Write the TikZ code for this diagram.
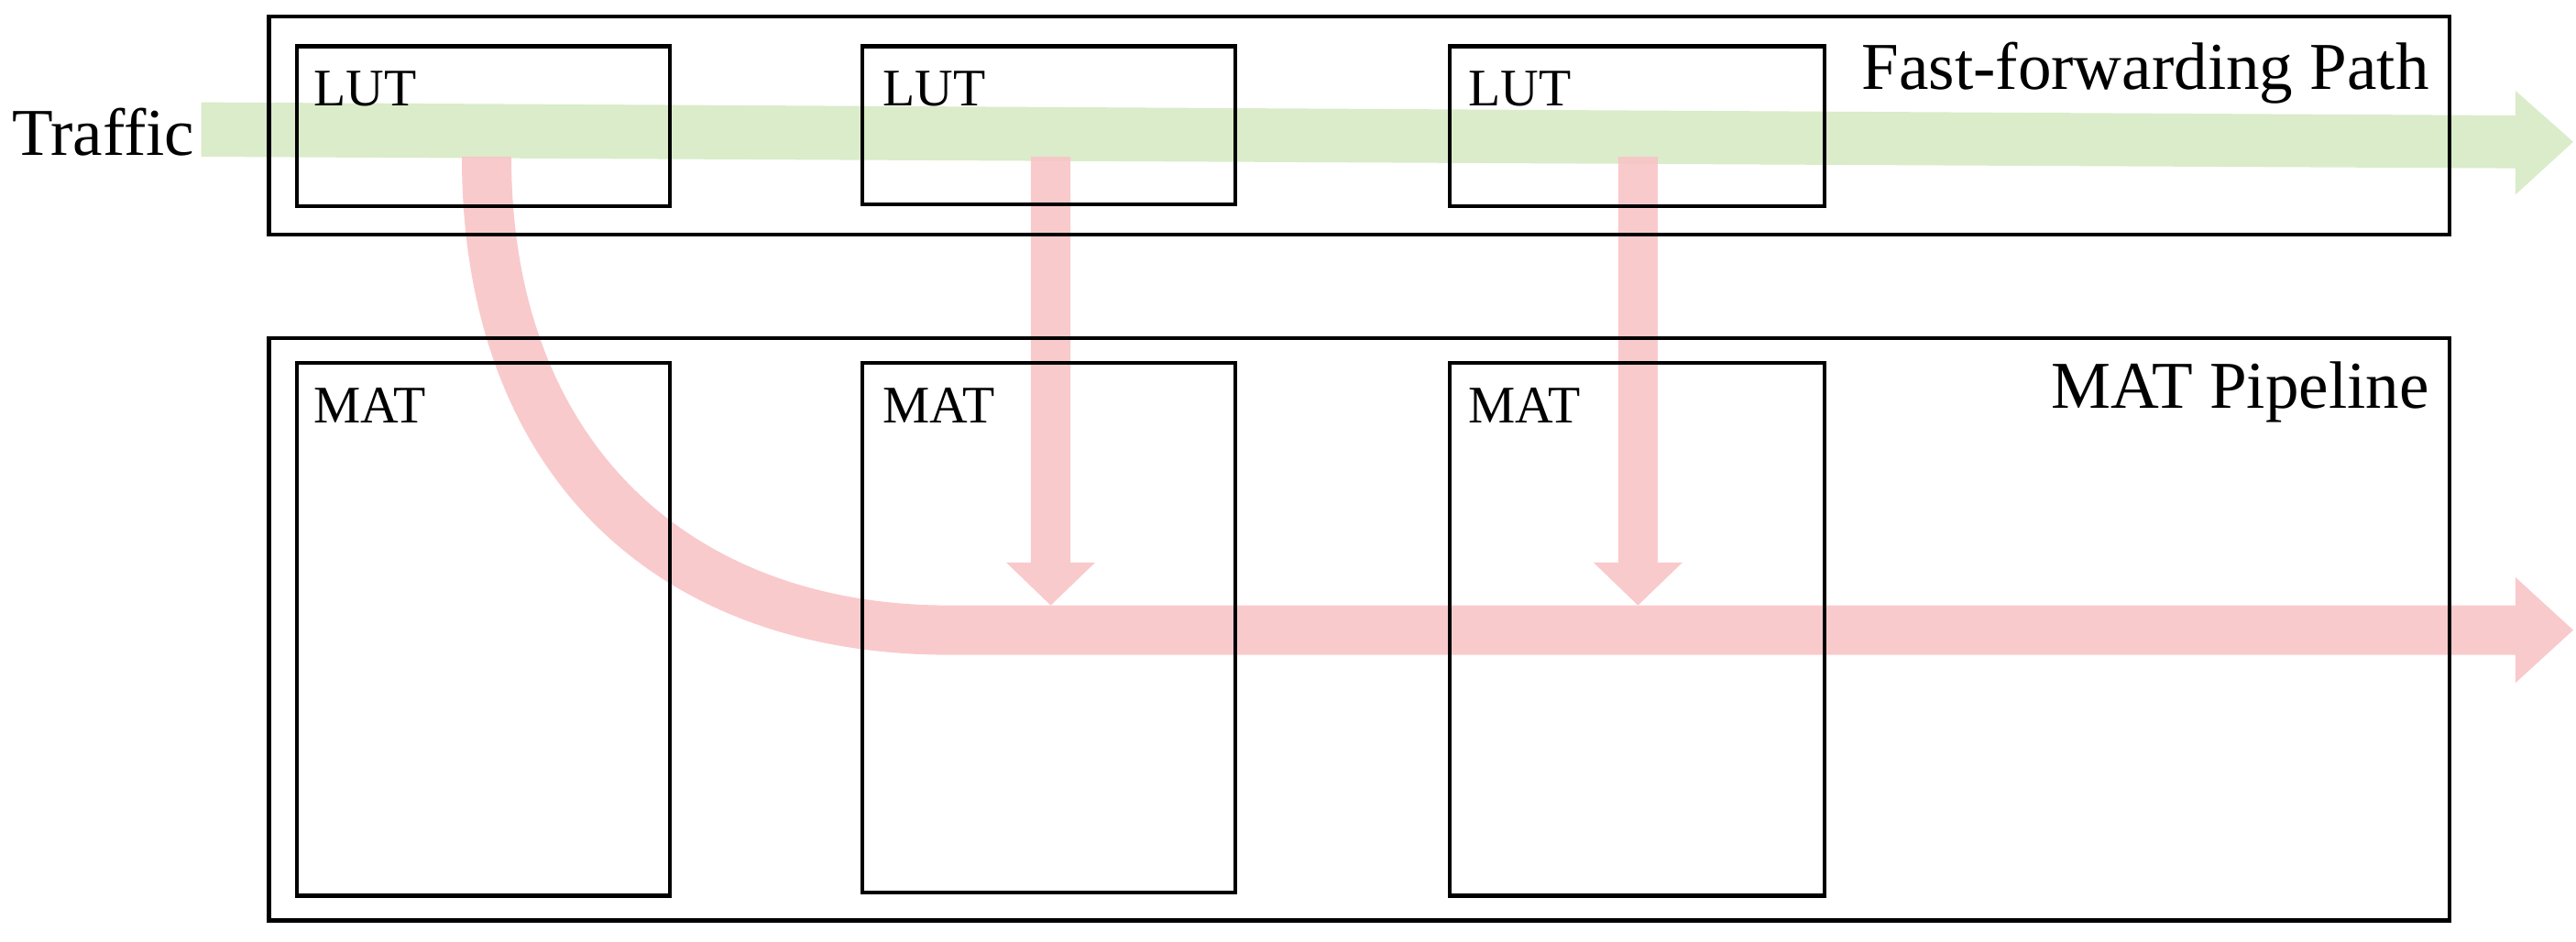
\documentclass[tikz,border=0pt]{standalone}
\usepackage{fontspec}
\setmainfont{Liberation Serif}
\begin{document}
\begin{tikzpicture}[x=0.018cm,y=-0.018cm,
  box/.style={draw=black,line width=1.2pt},
  lbl/.style={font=\fontsize{16.4pt}{18pt}\selectfont,anchor=west,inner sep=0},
  big/.style={font=\fontsize{20.8pt}{23pt}\selectfont,inner sep=0}]
\useasboundingbox (0,0) rectangle (1561.7,570.6);
\definecolor{gr}{RGB}{218,236,202}
\definecolor{rd}{RGB}{248,196,198}
% green arrow
\fill[gr] (122,62) -- (1525,70) -- (1525,55) -- (1560,86) -- (1525,118) -- (1525,102) -- (122,95) -- cycle;
% red curved arrow
\fill[rd,opacity=0.9] (280,95) -- (310,95) .. controls (310,270) and (420,367) .. (575,367) -- (1525,367) -- (1525,350) -- (1560,382) -- (1525,414) -- (1525,397) -- (575,397) .. controls (400,397) and (280,290) .. (280,95) -- cycle;
% vertical arrows
\foreach \c in {637,993}{
\fill[rd,opacity=0.9] (\c-12,95) -- (\c+12,95) -- (\c+12,341) -- (\c+27,341) -- (\c,367) -- (\c-27,341) -- (\c-12,341) -- cycle;}
% boxes
\draw[box] (163,10) rectangle (1485,142);
\draw[box] (163,205) rectangle (1485,558);
\draw[box] (180,28) rectangle (406,125);
\draw[box] (523,28) rectangle (749,124);
\draw[box] (879,28) rectangle (1106,125);
\draw[box] (180,220) rectangle (406,543);
\draw[box] (523,220) rectangle (749,541);
\draw[box] (879,220) rectangle (1106,543);
\node[lbl] (l1) at (190,54) {LUT};
\node[lbl] (l2) at (535,54) {LUT};
\node[lbl] (l3) at (890,54) {LUT};
\node[lbl] (m1) at (190,246) {MAT};
\node[lbl] (m2) at (535,246) {MAT};
\node[lbl] (m3) at (890,246) {MAT};
\node[big,anchor=west] (tr) at (7,80) {Traffic};
\node[big,anchor=east] (fp) at (1473,44) {Fast-forwarding Path};
\node[big,anchor=east] (mp) at (1473,238) {MAT Pipeline};
\end{tikzpicture}
\end{document}
